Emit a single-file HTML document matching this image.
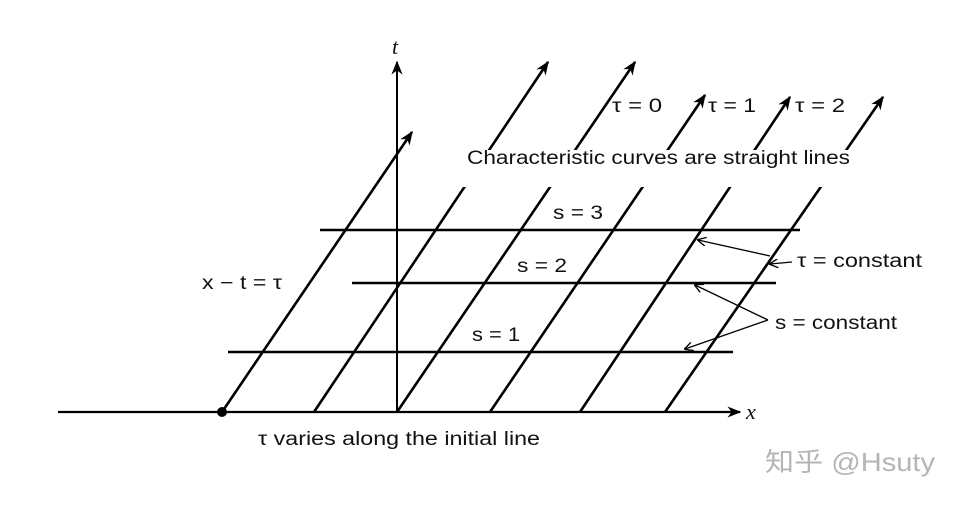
<!DOCTYPE html>
<html><head><style>
body{margin:0;background:#fff;}
svg{display:block;}
text{font-family:"Liberation Sans",sans-serif;font-size:19px;fill:#111;}
.i{font-family:"Liberation Serif",serif;font-style:italic;font-size:22px;}
</style></head><body>
<svg width="961" height="505" viewBox="0 0 961 505">
<defs>
<marker id="a" viewBox="0 0 10 10" refX="9" refY="5" markerWidth="9" markerHeight="9" orient="auto" markerUnits="userSpaceOnUse"><path d="M0,0 L10,5 L0,10" fill="none" stroke="#000" stroke-width="1.5"/></marker>
<marker id="b" viewBox="0 0 10 10" refX="9" refY="5" markerWidth="14" markerHeight="14" orient="auto" markerUnits="userSpaceOnUse"><path d="M0,1 L10,5 L0,9 L3,5Z" fill="#000"/></marker>
</defs>
<g stroke="#000" stroke-width="2.6" fill="none">
<line x1="58" y1="412" x2="740" y2="412" stroke-width="2.2" marker-end="url(#b)"/>
<line x1="397" y1="412" x2="397" y2="62" stroke-width="2" marker-end="url(#b)"/>
<line x1="320" y1="230" x2="800" y2="230"/>
<line x1="352" y1="283" x2="776" y2="283"/>
<line x1="228" y1="352" x2="733" y2="352"/>
<line x1="314" y1="412" x2="548" y2="62" marker-end="url(#b)"/>
<line x1="397" y1="412" x2="635" y2="62" marker-end="url(#b)"/>
<line x1="490" y1="412" x2="705" y2="95" marker-end="url(#b)"/>
<line x1="580" y1="412" x2="790" y2="97" marker-end="url(#b)"/>
<line x1="665" y1="412" x2="883" y2="97" marker-end="url(#b)"/>
</g>
<rect x="455" y="150" width="400" height="37" fill="#fff"/>
<line x1="222" y1="412" x2="412" y2="132" stroke="#000" stroke-width="2.6" marker-end="url(#b)"/>
<circle cx="222" cy="412" r="5" fill="#000"/>
<g stroke="#000" stroke-width="1.3" fill="none">
<line x1="770" y1="256" x2="698" y2="240" marker-end="url(#a)"/>
<line x1="792" y1="262" x2="770" y2="264" marker-end="url(#a)"/>
<line x1="768" y1="320" x2="695" y2="285" marker-end="url(#a)"/>
<line x1="768" y1="320" x2="685" y2="349" marker-end="url(#a)"/>
</g>
<text x="392" y="54" class="i">t</text>
<text x="746" y="419" class="i">x</text>
<text x="612" y="112" textLength="50" lengthAdjust="spacingAndGlyphs">τ = 0</text>
<text x="708" y="112" textLength="48" lengthAdjust="spacingAndGlyphs">τ = 1</text>
<text x="795" y="112" textLength="50" lengthAdjust="spacingAndGlyphs">τ = 2</text>
<text x="467" y="164" textLength="383" lengthAdjust="spacingAndGlyphs">Characteristic curves are straight lines</text>
<text x="553" y="219" textLength="50" lengthAdjust="spacingAndGlyphs">s = 3</text>
<text x="517" y="272" textLength="50" lengthAdjust="spacingAndGlyphs">s = 2</text>
<text x="472" y="341" textLength="48" lengthAdjust="spacingAndGlyphs">s = 1</text>
<text x="202" y="289" textLength="80" lengthAdjust="spacingAndGlyphs">x − t = τ</text>
<text x="797" y="267" textLength="125" lengthAdjust="spacingAndGlyphs">τ = constant</text>
<text x="775" y="329" textLength="122" lengthAdjust="spacingAndGlyphs">s = constant</text>
<text x="258" y="445" textLength="282" lengthAdjust="spacingAndGlyphs">τ varies along the initial line</text>
<text x="765" y="471" textLength="170" lengthAdjust="spacingAndGlyphs" style="font-family:'Liberation Sans','Noto Sans CJK SC',sans-serif;font-size:26px;fill:#b5b5b5">知乎 @Hsuty</text>
</svg>
</body></html>
